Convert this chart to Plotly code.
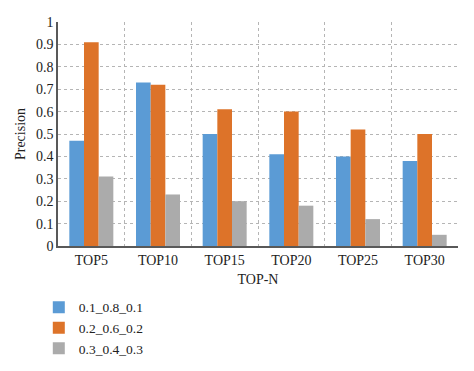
import plotly.graph_objects as go

categories = ["TOP5", "TOP10", "TOP15", "TOP20", "TOP25", "TOP30"]
series_names = ["0.1_0.8_0.1", "0.2_0.6_0.2", "0.3_0.4_0.3"]
s1 = [0.47, 0.73, 0.50, 0.41, 0.40, 0.38]
s2 = [0.91, 0.72, 0.61, 0.60, 0.52, 0.50]
s3 = [0.31, 0.23, 0.20, 0.18, 0.12, 0.05]
colors = ["#5B9BD5", "#DD7329", "#ABABAB"]
y_ticks = [0, 0.1, 0.2, 0.3, 0.4, 0.5, 0.6, 0.7, 0.8, 0.9, 1]
y_tick_labels = ["0", "0.1", "0.2", "0.3", "0.4", "0.5", "0.6", "0.7", "0.8", "0.9", "1"]

fig = go.Figure()
for name, vals, c in zip(series_names, [s1, s2, s3], colors):
    fig.add_trace(go.Bar(x=categories, y=vals, name=name, marker=dict(color=c, line=dict(width=0))))

font = dict(family="Liberation Serif, Times New Roman, serif", size=14, color="#222222")
fig.update_layout(
    width=466, height=363,
    margin=dict(l=50, r=16, t=14, b=125, autoexpand=False),
    paper_bgcolor="white", plot_bgcolor="white",
    font=font,
    barmode="group", bargap=0.34, bargroupgap=0,
    showlegend=True,
    legend=dict(orientation="v", x=-0.048, xanchor="left", y=-0.205, yanchor="top",
                font=dict(family=font["family"], size=13.5, color="#222222"),
                tracegroupgap=0, itemwidth=30),
    xaxis=dict(
        title=dict(text="TOP-N", font=font, standoff=8), automargin=False,
        tickson="boundaries", showgrid=True, griddash="dot", gridcolor="#B5B5B5", gridwidth=1,
        showline=True, linecolor="#595959", linewidth=1.5, ticks="", tickfont=font,
    ),
    yaxis=dict(
        title=dict(text="Precision", font=font, standoff=7), automargin=False,
        range=[0, 1], tickvals=y_ticks, ticktext=y_tick_labels,
        showgrid=True, griddash="dot", gridcolor="#B5B5B5", gridwidth=1,
        showline=True, linecolor="#595959", linewidth=1.5, ticks="", tickfont=font,
        zeroline=False,
    ),
)

fig.write_html("out.html")
